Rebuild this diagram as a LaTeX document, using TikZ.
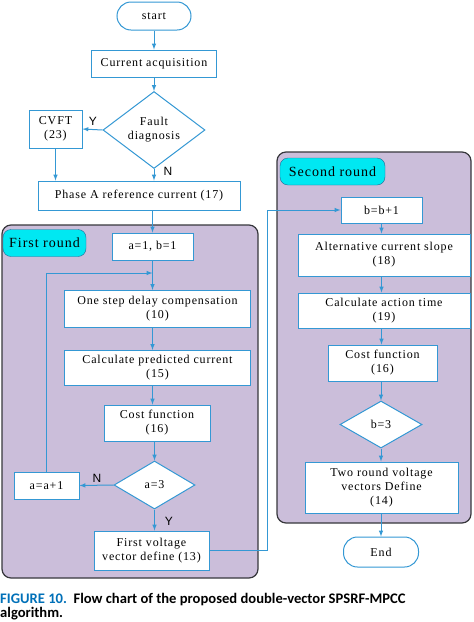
\documentclass[tikz,border=0pt]{standalone}
\usepackage{fontspec}
\setmainfont{Liberation Serif}[LetterSpace=7]
\newfontfamily\yesno{Liberation Sans}
\newfontfamily\capfont{Carlito}
\usepackage{tikz}
\usetikzlibrary{arrows,shapes.geometric}
\definecolor{lineblue}{RGB}{52,152,212}
\definecolor{panelfill}{RGB}{203,190,218}
\definecolor{paneldraw}{RGB}{55,55,60}
\definecolor{tagfill}{RGB}{0,232,242}
\definecolor{capblue}{RGB}{0,112,184}

\begin{document}
\begin{tikzpicture}[x=1pt,y=-1pt,>=latex,
  font=\fontsize{12}{14}\selectfont,
  proc/.style={draw=lineblue,line width=1pt,fill=white,align=center,inner sep=2pt},
  term/.style={proc,rounded corners=14pt},
  dec/.style={draw=lineblue,line width=1pt,fill=white,diamond,align=center,inner sep=0pt},
  panel/.style={draw=paneldraw,line width=1.2pt,fill=panelfill,rounded corners=9pt},
  roundtag/.style={draw=lineblue!70!black,fill=tagfill,rounded corners=8pt,inner sep=2pt,
    font=\fontsize{14}{16}\selectfont},
  flow/.style={->,draw=lineblue,line width=1pt},
  yn/.style={font=\yesno\fontsize{12}{14}\selectfont}]
\useasboundingbox (0,0) rectangle (474,622);

% panels
\draw[panel] (2,225) rectangle (258,578);
\draw[panel] (277,152) rectangle (471,523);
\node[roundtag,minimum width=83pt,minimum height=27pt] (firsttag) at (44.5,243) {First round};
\node[roundtag,minimum width=105pt,minimum height=27pt] (secondtag) at (332.5,171.5) {Second round};

% top part
\node[term,minimum width=74pt,minimum height=28pt] (start) at (154,16) {start};
\node[proc,minimum width=125pt,minimum height=27pt] (acq) at (154,63.5) {Current acquisition};
\node[dec,minimum width=102pt,minimum height=60pt] (fault) at (154,130) {Fault\\diagnosis};
\node[proc,minimum width=53pt,minimum height=38pt] (cvft) at (55.5,129) {CVFT\\(23)};
\node[proc,minimum width=202pt,minimum height=29pt] (phase) at (139,195.5) {Phase A reference current (17)};

% first round
\node[proc,minimum width=81pt,minimum height=27pt] (init) at (152.5,246.5) {a=1, b=1};
\node[proc,minimum width=186pt,minimum height=37pt] (delay) at (157.5,309) {One step delay compensation\\(10)};
\node[proc,minimum width=186pt,minimum height=35pt] (pred) at (157.5,368) {Calculate predicted current\\(15)};
\node[proc,minimum width=106pt,minimum height=36pt] (costa) at (157,423) {Cost function\\(16)};
\node[dec,minimum width=81pt,minimum height=48pt] (acheck) at (154.5,485) {a=3};
\node[proc,minimum width=65pt,minimum height=27pt] (ainc) at (46.5,485.5) {a=a+1};
\node[proc,minimum width=115pt,minimum height=39pt] (firstvec) at (151.5,550.5) {First voltage\\vector define (13)};
\coordinate (join) at (152.5,273);

% second round
\node[proc,minimum width=81pt,minimum height=26pt] (binc) at (381.5,210) {b=b+1};
\node[proc,minimum width=172pt,minimum height=42pt] (slope) at (384,255) {Alternative current slope\\(18)};
\node[proc,minimum width=172pt,minimum height=35pt] (acttime) at (384,310.5) {Calculate action time\\(19)};
\node[proc,minimum width=109pt,minimum height=36pt] (costb) at (382.5,363) {Cost function\\(16)};
\node[dec,minimum width=82pt,minimum height=47pt] (bcheck) at (381,424.5) {b=3};
\node[proc,minimum width=153pt,minimum height=51pt] (tworound) at (381.5,487.5) {Two round voltage\\vectors Define\\(14)};
\node[term,minimum width=75pt,minimum height=30pt] (end) at (381,552) {End};

% connectors, top
\draw[flow] (start) -- (acq);
\draw[flow] (acq) -- (fault);
\draw[flow] (fault.west) -- (cvft.east);
\node[yn] (ylabel1) at (93,121) {Y};
\draw[flow] (fault.south) -- (fault.south |- phase.north);
\node[yn] (nlabel1) at (168,171) {N};
\draw[flow] (cvft.south) -- (cvft.south |- phase.north);
\draw[flow] (init.north |- phase.south) -- (init.north);

% connectors, first round
\draw[flow] (init.south) -- (init.south |- delay.north);
\draw[flow] (ainc.north) |- (join);
\draw[flow] (delay.south -| init) -- (pred.north -| init);
\draw[flow] (pred.south -| init) -- (costa.north -| init);
\draw[flow] (costa.south -| acheck) -- (acheck.north);
\draw[flow] (acheck.west) -- (ainc.east);
\node[yn] (nlabel2) at (97,478) {N};
\draw[flow] (acheck.south) -- (acheck.south |- firstvec.north);
\node[yn] (ylabel2) at (169,521) {Y};
\draw[flow] (firstvec.east) -- ++(58,0) |- (binc.west);

% connectors, second round
\draw[flow] (binc.south) -- (binc.south |- slope.north);
\draw[flow] (slope.south -| binc) -- (acttime.north -| binc);
\draw[flow] (acttime.south -| binc) -- (costb.north -| binc);
\draw[flow] (costb.south -| bcheck) -- (bcheck.north);
\draw[flow] (bcheck.south) -- (bcheck.south |- tworound.north);
\draw[flow] (tworound.south -| end) -- (end.north);

% caption
\node[anchor=base west,inner sep=0pt,font=\capfont\bfseries\fontsize{14.6}{16}\selectfont] (cap1) at (0,603)
  {\textcolor{capblue}{FIGURE 10.}\ \ Flow chart of the proposed double-vector SPSRF-MPCC};
\node[anchor=base west,inner sep=0pt,font=\capfont\bfseries\fontsize{14.6}{16}\selectfont] (cap2) at (0,617)
  {algorithm.};
\end{tikzpicture}
\end{document}
